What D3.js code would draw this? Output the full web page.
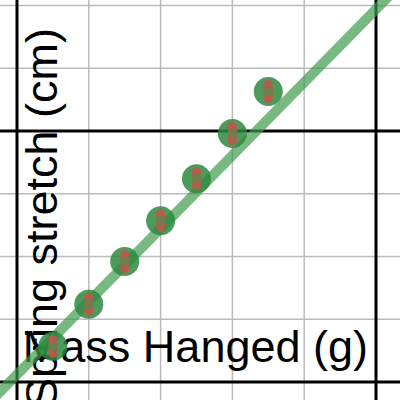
<!DOCTYPE html>
<html><head><meta charset="utf-8">
<script src="https://cdn.jsdelivr.net/npm/d3@7"></script>
<style>body{margin:0;background:#fff}svg{display:block}</style>
</head><body><svg id="c" width="400" height="400"></svg>
<script>
const massX = [0.5, 1, 1.5, 2, 2.5, 3, 3.5];
const stretchY = [0.57, 1.24, 1.92, 2.57, 3.24, 3.96, 4.63];
const errY = [0.16, 0.16, 0.16, 0.16, 0.16, 0.16, 0.16];
const fitSlope = 1.164, fitIntercept = 0.12;
const gridX = [1, 2, 3, 4];
const gridY = [1, 2, 3, 5, 6];
const boldX = [0, 5];
const boldY = [0, 4];
const xLabel = "Mass Hanged (g)";
const yLabel = "Spring stretch (cm)";

const svg = d3.select("#c");
const x = d3.scaleLinear().domain([0, 5]).range([17, 376]);
const y = d3.scaleLinear().domain([0, 4]).range([382, 131]);

svg.selectAll(".gx").data(gridX).join("line")
  .attr("x1", d => x(d)).attr("x2", d => x(d)).attr("y1", 0).attr("y2", 400)
  .attr("stroke", "#bbb").attr("stroke-width", 1.5);
svg.selectAll(".gy").data(gridY).join("line")
  .attr("y1", d => y(d)).attr("y2", d => y(d)).attr("x1", 0).attr("x2", 400)
  .attr("stroke", "#bbb").attr("stroke-width", 1.5);
svg.selectAll(".bx").data(boldX).join("line")
  .attr("x1", d => x(d)).attr("x2", d => x(d)).attr("y1", 0).attr("y2", 400)
  .attr("stroke", "#000").attr("stroke-width", 3);
svg.selectAll(".by").data(boldY).join("line")
  .attr("y1", d => y(d)).attr("y2", d => y(d)).attr("x1", 0).attr("x2", 400)
  .attr("stroke", "#000").attr("stroke-width", 3);

svg.append("text").attr("transform", "translate(57,28) rotate(-90)")
  .attr("text-anchor", "end").attr("font-family", "Liberation Sans, Arial, sans-serif")
  .attr("font-size", 45).attr("fill", "#000").text(yLabel);
svg.append("text").attr("x", 368).attr("y", 362)
  .attr("text-anchor", "end").attr("font-family", "Liberation Sans, Arial, sans-serif")
  .attr("font-size", 45).attr("fill", "#000").text(xLabel);

const xs = [x.invert(-5), x.invert(405)];
svg.append("line")
  .attr("x1", x(xs[0])).attr("y1", y(fitSlope * xs[0] + fitIntercept))
  .attr("x2", x(xs[1])).attr("y2", y(fitSlope * xs[1] + fitIntercept))
  .attr("stroke", "#3f9a4c").attr("stroke-opacity", 0.7).attr("stroke-width", 10);

const pts = massX.map((v, i) => ({x: v, y: stretchY[i], e: errY[i]}));
svg.selectAll(".pt").data(pts).join("circle")
  .attr("cx", d => x(d.x)).attr("cy", d => y(d.y)).attr("r", 14.5)
  .attr("fill", "#2d8a3e").attr("fill-opacity", 0.85);
svg.selectAll(".eb").data(pts).join("line")
  .attr("x1", d => x(d.x)).attr("x2", d => x(d.x))
  .attr("y1", d => y(d.y - d.e) - 3).attr("y2", d => y(d.y + d.e) + 3)
  .attr("stroke", "#c0574a").attr("stroke-width", 9).attr("stroke-linecap", "round").attr("stroke-opacity", 0.9);
svg.selectAll(".ec").data(pts).join("circle")
  .attr("cx", d => x(d.x)).attr("cy", d => y(d.y)).attr("r", 5)
  .attr("fill", "#4a8f4e").attr("fill-opacity", 0.6);
</script></body></html>
